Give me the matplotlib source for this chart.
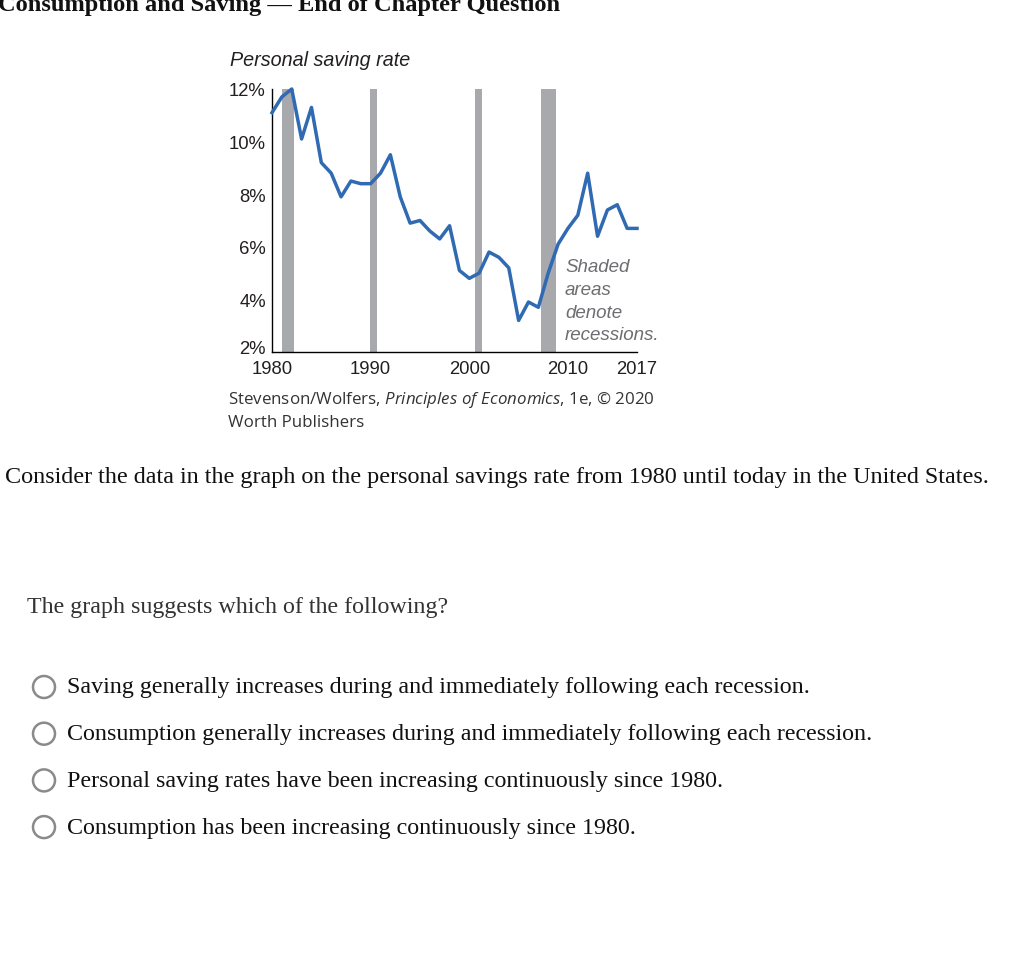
import matplotlib
matplotlib.use('Agg')
import matplotlib.pyplot as plt
import matplotlib.transforms as mtransforms
from matplotlib.patches import Circle

plt.rcParams['mathtext.fontset'] = 'custom'
plt.rcParams['mathtext.rm'] = 'Open Sans'
plt.rcParams['mathtext.it'] = 'Open Sans:italic'

W, H = 1024, 978

# Personal saving rate
years = list(range(1980, 2018))
saving_rate = [11.1, 11.7, 12.0, 10.1, 11.3, 9.2, 8.8, 7.9, 8.5, 8.4,
               8.4, 8.8, 9.5, 7.9, 6.9, 7.0, 6.6, 6.3, 6.8, 5.1,
               4.8, 5.0, 5.8, 5.6, 5.2, 3.2, 3.9, 3.7, 5.0, 6.1,
               6.7, 7.2, 8.8, 6.4, 7.4, 7.6, 6.7, 6.7]

# Recessions (start, end) in years
recessions = [(1981.05, 1982.25), (1989.9, 1990.65), (2000.6, 2001.3), (2007.3, 2008.8)]

y_ticks = [2, 4, 6, 8, 10, 12]
y_labels = ['2%', '4%', '6%', '8%', '10%', '12%']
x_ticks = [1980, 1990, 2000, 2010, 2017]

question = 'Consider the data in the graph on the personal savings rate from 1980 until today in the United States.'
prompt = 'The graph suggests which of the following?'
options = ['Saving generally increases during and immediately following each recession.',
           'Consumption generally increases during and immediately following each recession.',
           'Personal saving rates have been increasing continuously since 1980.',
           'Consumption has been increasing continuously since 1980.']

fig = plt.figure(figsize=(W / 100, H / 100), dpi=100)

# chart axes placed in pixel coords
left, right, top, bottom = 272, 637, 90, 353
ax = fig.add_axes([left / W, 1 - bottom / H, (right - left) / W, (bottom - top) / H])
ax.patch.set_visible(False)
for a, b in recessions:
    ax.axvspan(a, b, color='#a7a9ac', lw=0, zorder=1)
ax.plot(years, saving_rate, color='#2f6ab3', lw=2.5, zorder=3, clip_on=False)
ax.set_xlim(1980, 2017)
ax.set_ylim(2, 12)
ax.spines['top'].set_visible(False)
ax.spines['right'].set_visible(False)
ax.spines['left'].set_linewidth(1.0)
ax.spines['bottom'].set_linewidth(1.0)
ax.set_yticks(y_ticks)
ax.set_yticklabels(y_labels)
ax.set_xticks(x_ticks)
ax.tick_params(length=0, labelsize=13.3, labelcolor='#231f20')
ax.tick_params(axis='y', pad=4.5)
ax.tick_params(axis='x', pad=6)
for lab in ax.get_xticklabels() + ax.get_yticklabels():
    lab.set_family('Liberation Sans')
# lift the 2% label a little so it clears the x axis labels
lab2 = ax.get_yticklabels()[0]
lab2.set_transform(lab2.get_transform() + mtransforms.ScaledTranslation(0, 4 / 72, fig.dpi_scale_trans))

# overlay for everything else, in pixels
ov = fig.add_axes([0, 0, 1, 1], zorder=-1)
ov.set_xlim(0, W)
ov.set_ylim(H, 0)
ov.axis('off')

ov.text(-2, 6, 'Consumption and Saving \u2014 End of Chapter Question', family='Liberation Serif',
        weight='bold', fontsize=17.6, va='center', ha='left', color='#111')

ov.text(230, 61, 'Personal saving rate', family='Liberation Sans', style='italic',
        fontsize=14.2, va='center', color='#231f20')

for i, t in enumerate(['Shaded', 'areas', 'denote', 'recessions.']):
    ov.text(565, 268 + i * 22.5, t, family='Liberation Sans', style='italic',
            fontsize=13.5, va='center', color='#6d6e71')

ov.text(228, 400, 'Stevenson/Wolfers, $\\it{Principles\\ of\\ Economics}$, 1e, \u00a9 2020',
        family='Open Sans', fontsize=12.2, va='center', color='#333')
ov.text(228, 423, 'Worth Publishers', family='Open Sans', fontsize=12.2, va='center', color='#333')

ov.text(5, 478, question, family='Liberation Serif', fontsize=17.4, va='center', color='#111')
ov.text(27, 607, prompt, family='Liberation Serif', fontsize=17.3, va='center', color='#333')

for i, opt in enumerate(options):
    yy = 688 + i * 46.7
    ov.add_patch(Circle((44, yy), 11, fill=False, ec='#8a8a8a', lw=1.8))
    ov.text(67, yy, opt, family='Liberation Serif', fontsize=17.3, va='center', color='#111')

fig.savefig('out.png', dpi=100)
